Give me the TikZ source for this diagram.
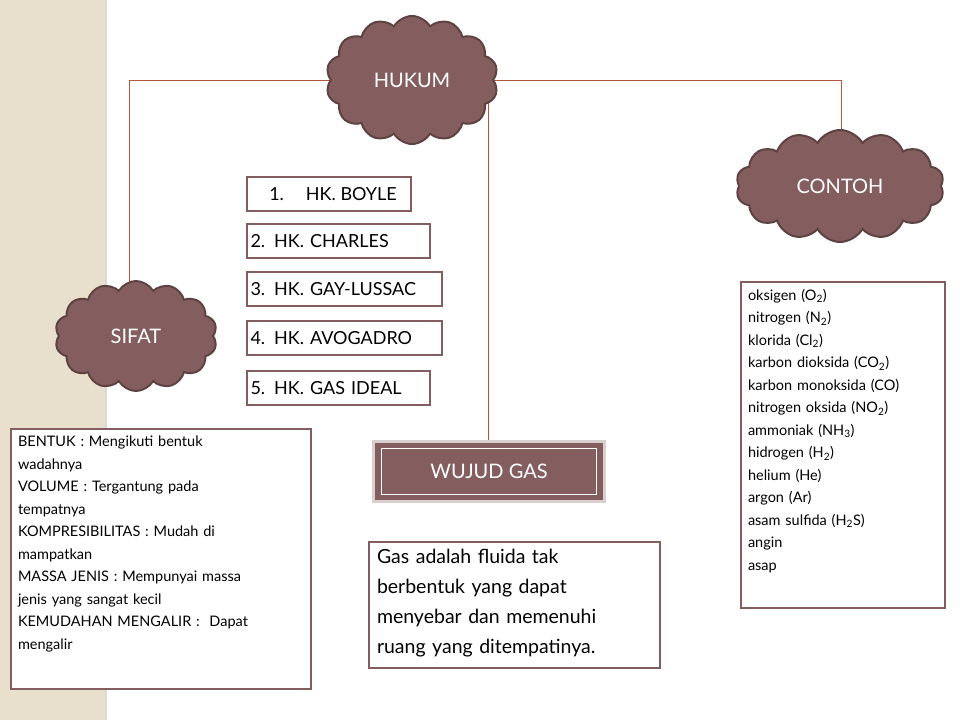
\documentclass[tikz,border=0pt]{standalone}
\usepackage{fontspec}
\setmainfont{Lato}
\usetikzlibrary{shapes.symbols,backgrounds}
\definecolor{brn}{HTML}{845E5E}
\definecolor{brnd}{HTML}{5E4242}
\definecolor{lnk}{HTML}{B5563A}
\definecolor{strip}{HTML}{E8E0CC}
\tikzset{
 cl/.style={cloud, cloud puffs=14, cloud puff arc=120, fill=brn, draw=brnd, line width=2pt, text=white, font=\fontsize{20}{24}\selectfont, inner sep=0pt},
 bx/.style={draw=brn, fill=white, line width=2pt, anchor=north west, align=left, inner sep=5pt, text=black},
 hk/.style={draw=brn, fill=white, line width=2pt, anchor=north west, minimum height=34pt, inner sep=0pt, text=black, font=\fontsize{18}{20}\selectfont},
 ln/.style={draw=lnk, line width=1pt}
}
\begin{document}
\begin{tikzpicture}[x=1pt,y=-1pt]
\useasboundingbox (0,0) rectangle (960,720);
\fill[strip] (0,0) rectangle (105,720);
\draw[white!85!black, line width=1.5pt] (106,0)--(106,720);
% clouds
\node[cl, aspect=1.35, minimum width=172pt, minimum height=128pt] (hukum) at (412,80) {HUKUM};
\node[cl, aspect=1.85, minimum width=208pt, minimum height=112pt] (contoh) at (840,186) {CONTOH};
\node[cl, aspect=1.45, minimum width=162pt, minimum height=110pt] (sifat) at (136,336) {SIFAT};
% wujud gas
\node[fill=brn, draw=white!70!brn, line width=3pt, minimum width=231pt, minimum height=60pt, anchor=north west, inner sep=0pt] (wujud) at (372,440) {};
\node[draw=white, line width=1.2pt, minimum width=215pt, minimum height=46pt, text=white, font=\fontsize{20}{24}\selectfont] (wujudt) at (wujud.center) {WUJUD GAS};
% connectors
\coordinate (cl1) at (129,80);
\coordinate (cr1) at (841,80);
\coordinate (cm1) at (488,80);
\begin{scope}[on background layer]
\draw[ln] (hukum.center) -- (cl1) -- (cl1 |- sifat.center);
\draw[ln] (hukum.center) -- (cr1) -- (cr1 |- contoh.center);
\draw[ln] (cm1) -- (cm1 |- wujud.north);
\end{scope}
% HK boxes
\node[hk, minimum width=164pt] (h1) at (246,176) {\hspace{8pt}1.\hspace{22pt}HK. BOYLE\hfill};
\node[hk, minimum width=183pt, text width=176pt, align=left] (h2) at (246,223) {2. HK. CHARLES};
\node[hk, minimum width=195pt, text width=188pt, align=left] (h3) at (246,271) {3. HK. GAY-LUSSAC};
\node[hk, minimum width=195pt, text width=188pt, align=left] (h4) at (246,320) {4. HK. AVOGADRO};
\node[hk, minimum width=183pt, text width=176pt, align=left] (h5) at (246,370) {5. HK. GAS IDEAL};
% sifat box
\node[bx, minimum width=300pt, minimum height=260pt, text width=286pt, font=\fontsize{14.5}{22.5}\selectfont, inner sep=6pt] (sbox) at (10,428) {\vbox to 246pt{\raggedright
BENTUK : Mengikuti bentuk\\ wadahnya\\
VOLUME : Tergantung pada\\ tempatnya\\
KOMPRESIBILITAS : Mudah di\\ mampatkan\\
MASSA JENIS : Mempunyai massa\\ jenis yang sangat kecil\\
KEMUDAHAN MENGALIR :\ \ Dapat\\ mengalir\vfill}};
% gas box
\node[bx, minimum width=291pt, minimum height=126pt, text width=275pt, font=\fontsize{19.5}{30}\selectfont, inner sep=7pt] (gbox) at (368,541) {\vbox to 112pt{\raggedright
Gas adalah fluida tak\\ berbentuk yang dapat\\ menyebar dan memenuhi\\ ruang yang ditempatinya.\vfill}};
% contoh box
\node[bx, minimum width=203pt, minimum height=326pt, text width=190pt, font=\fontsize{14.5}{22.5}\selectfont, inner sep=7pt] (cbox) at (740,281) {\vbox to 312pt{\raggedright
oksigen (O\textsubscript{2})\\ nitrogen (N\textsubscript{2})\\ klorida (Cl\textsubscript{2})\\ karbon dioksida (CO\textsubscript{2})\\ karbon monoksida (CO)\\ nitrogen oksida (NO\textsubscript{2})\\ ammoniak (NH\textsubscript{3})\\ hidrogen (H\textsubscript{2})\\ helium (He)\\ argon (Ar)\\ asam sulfida (H\textsubscript{2}S)\\ angin\\ asap\vfill}};
\end{tikzpicture}
\end{document}
